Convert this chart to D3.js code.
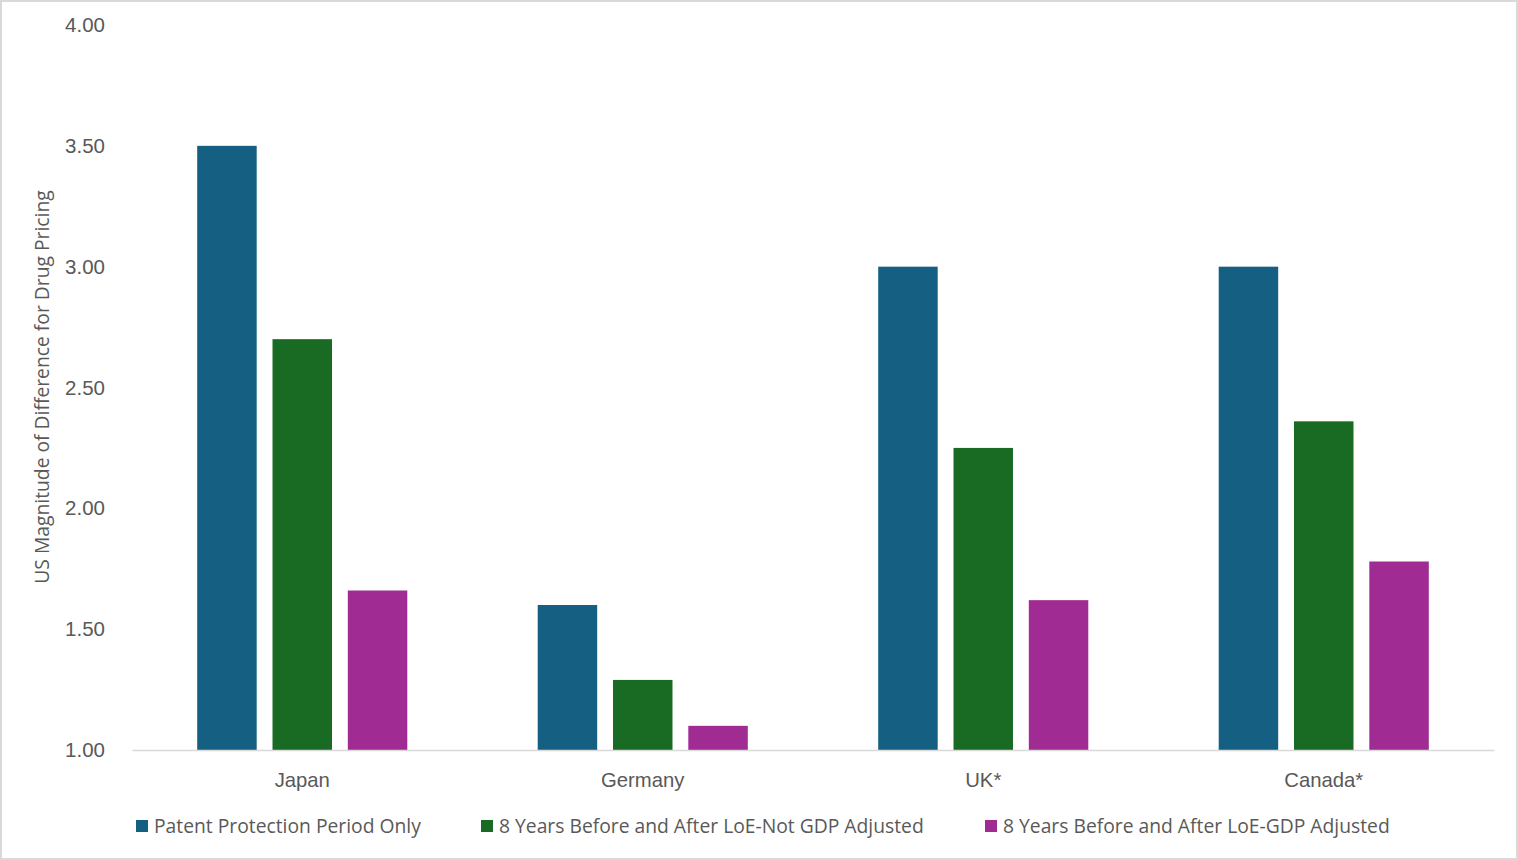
<!DOCTYPE html>
<html>
<head>
<meta charset="utf-8">
<script src="https://cdn.jsdelivr.net/npm/d3@7"></script>
<style>
  html, body { margin: 0; padding: 0; background: #fff; }
  svg { display: block; font-family: "Open Sans", "Liberation Sans", sans-serif; }
</style>
</head>
<body>
<svg id="chart" width="1518" height="860"></svg>
<script>
// Chart data
var categories = ["Japan", "Germany", "UK*", "Canada*"];
var seriesNames = [
  "Patent Protection Period Only",
  "8 Years Before and After LoE-Not GDP Adjusted",
  "8 Years Before and After LoE-GDP Adjusted"
];
var patentOnly = [3.50, 1.60, 3.00, 3.00];
var notGdpAdjusted = [2.70, 1.29, 2.25, 2.36];
var gdpAdjusted = [1.66, 1.10, 1.62, 1.78];
var yTicks = [1.00, 1.50, 2.00, 2.50, 3.00, 3.50, 4.00];
var colors = ["#156082", "#196B24", "#A02B93"];

var seriesValues = [patentOnly, notGdpAdjusted, gdpAdjusted];

var width = 1518, height = 860;
var plotLeft = 132, plotRight = 1494, plotTop = 25, plotBottom = 750;
var textColor = "#595959";

var svg = d3.select("#chart");

// outer frame
svg.append("rect")
  .attr("x", 1).attr("y", 1)
  .attr("width", width - 2).attr("height", height - 2)
  .attr("fill", "#fff")
  .attr("stroke", "#d9d9d9")
  .attr("stroke-width", 2);

var x0 = d3.scaleBand()
  .domain(categories)
  .range([plotLeft, plotRight])
  .paddingInner(0.383)
  .paddingOuter(0.383 / 2);

var x1 = d3.scaleBand()
  .domain(d3.range(seriesNames.length))
  .range([0, x0.bandwidth()])
  .paddingInner(0.21)
  .paddingOuter(0);

var y = d3.scaleLinear()
  .domain([1, 4])
  .range([plotBottom, plotTop]);

// y axis tick labels
var yAxis = d3.axisLeft(y)
  .tickValues(yTicks)
  .tickFormat(d3.format(".2f"))
  .tickSize(0)
  .tickPadding(0);

var yG = svg.append("g")
  .attr("transform", "translate(105,0)")
  .call(yAxis);
yG.select(".domain").remove();
yG.selectAll("text")
  .attr("fill", textColor)
  .style("font-size", "20.5px");

// bars
var groups = svg.selectAll("g.group")
  .data(categories)
  .enter().append("g")
  .attr("class", "group")
  .attr("transform", function(d) { return "translate(" + x0(d) + ",0)"; });

groups.selectAll("rect")
  .data(function(d, i) {
    return seriesValues.map(function(vals, s) { return { s: s, v: vals[i] }; });
  })
  .enter().append("rect")
  .attr("x", function(d) { return x1(d.s); })
  .attr("y", function(d) { return y(d.v); })
  .attr("width", x1.bandwidth())
  .attr("height", function(d) { return y(1) - y(d.v); })
  .attr("fill", function(d) { return colors[d.s]; });

// x axis
var xAxis = d3.axisBottom(x0).tickSize(0).tickPadding(0);
var xG = svg.append("g")
  .attr("transform", "translate(0," + plotBottom + ")")
  .call(xAxis);
xG.select(".domain")
  .attr("stroke", "#d9d9d9")
  .attr("stroke-width", 1.5);
xG.selectAll("text")
  .attr("fill", textColor)
  .attr("dy", "37px")
  .style("font-size", "20.3px");

// y axis title
svg.append("text")
  .attr("transform", "translate(49,387) rotate(-90)")
  .attr("text-anchor", "middle")
  .attr("fill", textColor)
  .style("font-size", "19.3px")
  .text("US Magnitude of Difference for Drug Pricing");

// legend
var legendX = [136, 481, 985];
var legend = svg.selectAll("g.legend")
  .data(seriesNames)
  .enter().append("g")
  .attr("class", "legend")
  .attr("transform", function(d, i) { return "translate(" + legendX[i] + ",820)"; });

legend.append("rect")
  .attr("width", 12).attr("height", 12)
  .attr("fill", function(d, i) { return colors[i]; });

legend.append("text")
  .attr("x", 18)
  .attr("y", 13)
  .attr("fill", textColor)
  .style("font-size", "19.3px")
  .text(function(d) { return d; });
</script>
</body>
</html>
